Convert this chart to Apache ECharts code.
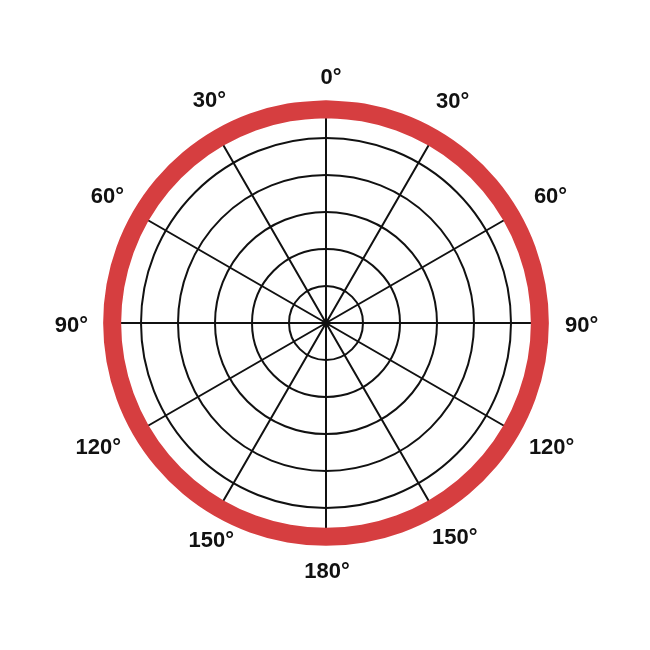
<!DOCTYPE html>
<html>
<head>
<meta charset="utf-8">
<script src="https://cdn.jsdelivr.net/npm/echarts@6/dist/echarts.min.js"></script>
<style>
html,body{margin:0;padding:0;background:#fff;}
#chart{width:650px;height:650px;}
</style>
</head>
<body>
<div id="chart"></div>
<script>
// Angle tick labels (every 30°, clockwise from top)
const angleTickLabels = ['0°','30°','60°','90°','120°','150°','180°','150°','120°','90°','60°','30°'];
// Measured pattern: angle (deg) and level (grid rings 0..6)
const patternAngles = [0,10,20,30,40,50,60,70,80,90,100,110,120,130,140,150,160,170,180,
  190,200,210,220,230,240,250,260,270,280,290,300,310,320,330,340,350,360];
const patternLevels = [5.78,5.78,5.78,5.78,5.78,5.78,5.78,5.78,5.78,5.78,5.78,5.78,5.78,5.78,5.78,5.78,5.78,5.78,5.78,
  5.78,5.78,5.78,5.78,5.78,5.78,5.78,5.78,5.78,5.78,5.78,5.78,5.78,5.78,5.78,5.78,5.78,5.78];

// per-label nudges [top, right, bottom, left] to place labels like the reference
const labelPads = [
  [0,0,54,10], [0,0,54,20], [0,0,25,52], [6,0,0,59], [24,0,0,47], [48,0,0,16],
  [58,0,0,2], [51,2,0,0], [24,49,0,0], [5,58,0,0], [0,46,25,0], [0,10,55,0]
];
const labelFont = '"Liberation Sans", Arial, sans-serif';
const rich = {};
labelPads.forEach((p, i) => {
  rich['p' + i] = { padding: p, fontFamily: labelFont, fontWeight: 'bold', fontSize: 22, color: '#111' };
});

const chart = echarts.init(document.getElementById('chart'), null, {renderer:'canvas'});
const lineCol = '#111';
chart.setOption({
  animation: false,
  backgroundColor: '#fff',
  polar: [
    { center: [326, 323], radius: 222 },
    { center: [326, 323], radius: 259 }
  ],
  angleAxis: [{
    polarIndex: 0,
    type: 'value', min: 0, max: 360, interval: 30,
    startAngle: 90, clockwise: true,
    axisLine: { show: false },
    axisTick: { show: false },
    splitLine: { show: true, lineStyle: { color: lineCol, width: 2 } },
    axisLabel: {
      margin: -42,
      color: '#111',
      fontFamily: labelFont,
      fontWeight: 'bold',
      fontSize: 22,
      rich: rich,
      formatter: function (v) {
        const i = Math.round(v / 30);
        return i < angleTickLabels.length ? '{p' + i + '|' + angleTickLabels[i] + '}' : '';
      }
    }
  }, {
    polarIndex: 1,
    type: 'value', min: 0, max: 360, interval: 30,
    startAngle: 90, clockwise: true,
    show: false
  }],
  radiusAxis: [{
    polarIndex: 0,
    type: 'value', min: 0, max: 6, interval: 1,
    axisLine: { show: false },
    axisTick: { show: false },
    axisLabel: { show: false },
    splitLine: { show: true, lineStyle: { color: [lineCol, lineCol, lineCol, lineCol, lineCol, lineCol, 'rgba(0,0,0,0)'], width: 2 } }
  }, {
    polarIndex: 1,
    type: 'value', min: 0, max: 7, interval: 1,
    show: false
  }],
  series: [{
    type: 'line',
    coordinateSystem: 'polar',
    polarIndex: 1,
    clip: false,
    data: patternAngles.map((a, i) => [patternLevels[i], a]),
    showSymbol: false,
    smooth: 0.33,
    lineStyle: { color: '#d63e40', width: 18, cap: 'round', join: 'round' },
    z: 5
  }]
});
</script>
</body>
</html>
